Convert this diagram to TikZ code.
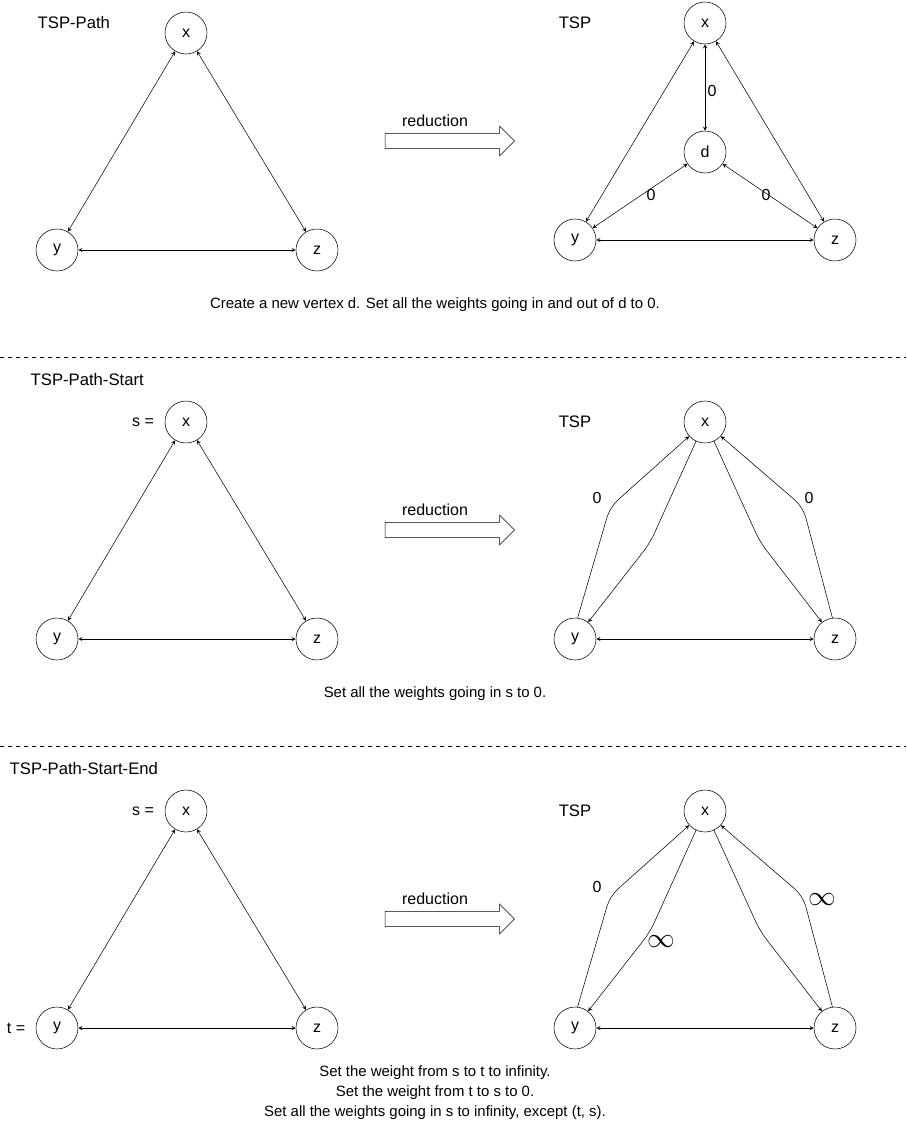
\documentclass[tikz,border=0pt]{standalone}
\usepackage{fontspec}
\setmainfont{Liberation Sans}
\usetikzlibrary{shapes.arrows}
\begin{document}
\begin{tikzpicture}[x=0.75pt,y=-0.75pt,
  vtx/.style={draw,circle,minimum size=31.5pt,inner sep=0pt,font=\fontsize{12}{14}\selectfont},
  ttl/.style={font=\fontsize{12.5}{15}\selectfont},
  captxt/.style={font=\fontsize{11.2}{13}\selectfont,align=center},
  wl/.style={font=\fontsize{12}{14}\selectfont},
  edg/.style={<->,>=stealth},
  arc/.style={->,>=stealth,rounded corners=8pt},
  redarrow/.style={draw,single arrow,single arrow head extend=5.5pt,minimum height=97pt,inner xsep=0pt,inner ysep=5.5pt,single arrow head indent=0pt}]
\useasboundingbox (0,0) rectangle (906,1134);
\foreach \o/\s in {0/a,389/b,778/c}{
  \node[vtx] (lx\s) at (186,33+\o) {x};
  \node[vtx] (ly\s) at (57,250+\o) {y};
  \node[vtx] (lz\s) at (317,250+\o) {z};
  \draw[edg] (lx\s) -- (ly\s); \draw[edg] (lx\s) -- (lz\s); \draw[edg] (ly\s) -- (lz\s);
  \node[redarrow] (ar\s) at (446,141+\o) {};
  \node[wl] (rl\s) at (435,121+\o) {reduction};
}
\node[ttl,anchor=west] (t1) at (33,23) {TSP-Path};
\node[ttl,anchor=west] (t2) at (26,380) {TSP-Path-Start};
\node[ttl,anchor=west] (t3) at (5,769) {TSP-Path-Start-End};
\node[wl] (sb) at (143,422) {s =};
\node[wl] (sc) at (143,811) {s =};
\node[wl] (tc) at (16,1028) {t =};
% panel 1 right
\node[ttl] (T1) at (575,23) {TSP};
\node[vtx] (rxa) at (705,23) {x};
\node[vtx] (rda) at (705,152) {d};
\node[vtx] (rya) at (575,240) {y};
\node[vtx] (rza) at (835,240) {z};
\draw[edg] (rxa) -- (rya); \draw[edg] (rxa) -- (rza); \draw[edg] (rya) -- (rza);
\draw[edg] (rxa) -- (rda);
\draw[edg] (rda) -- (rya);
\draw[edg] (rda) -- (rza);
\node[wl] (wa1) at (712,91) {0};
\node[wl] (wa2) at (651,195) {0};
\node[wl] (wa3) at (766,195) {0};
\node[captxt] (c1) at (435,305) {Create a new vertex d. Set all the weights going in and out of d to 0.};
\draw[dashed] (0,357) -- (906,357);
\draw[dashed] (0,746) -- (906,746);
% panels 2,3 right
\foreach \o/\s in {389/b,778/c}{
  \node[ttl] (T\s) at (575,33+\o) {TSP};
  \node[vtx] (rx\s) at (705,33+\o) {x};
  \node[vtx] (ry\s) at (575,250+\o) {y};
  \node[vtx] (rz\s) at (835,250+\o) {z};
  \draw[edg] (ry\s) -- (rz\s);
  \coordinate (p1\s) at (610,118+\o); \coordinate (p2\s) at (650,154+\o);
  \coordinate (p3\s) at (760,153+\o); \coordinate (p4\s) at (803,118+\o);
  \draw[arc] (ry\s.83) -- (p1\s) -- (rx\s.222);
  \draw[arc] (rx\s.245) -- (p2\s) -- (ry\s.52);
  \draw[arc] (rx\s.295) -- (p3\s) -- (rz\s.128);
  \draw[arc] (rz\s.97) -- (p4\s) -- (rx\s.318);
}
\node[wl] (wb1) at (597,498) {0};
\node[wl] (wb2) at (809,498) {0};
\node[wl] (wc1) at (597,887) {0};
\node[font=\fontsize{20}{20}\selectfont] (wc2) at (661,942) {$\infty$};
\node[font=\fontsize{20}{20}\selectfont] (wc3) at (822,900) {$\infty$};
\node[captxt] (c2) at (435,694) {Set all the weights going in s to 0.};
\node[captxt] (c3) at (435,1093) {Set the weight from s to t to infinity.\\[2pt]Set the weight from t to s to 0.\\[2pt]Set all the weights going in s to infinity, except (t, s).};
\end{tikzpicture}
\end{document}
